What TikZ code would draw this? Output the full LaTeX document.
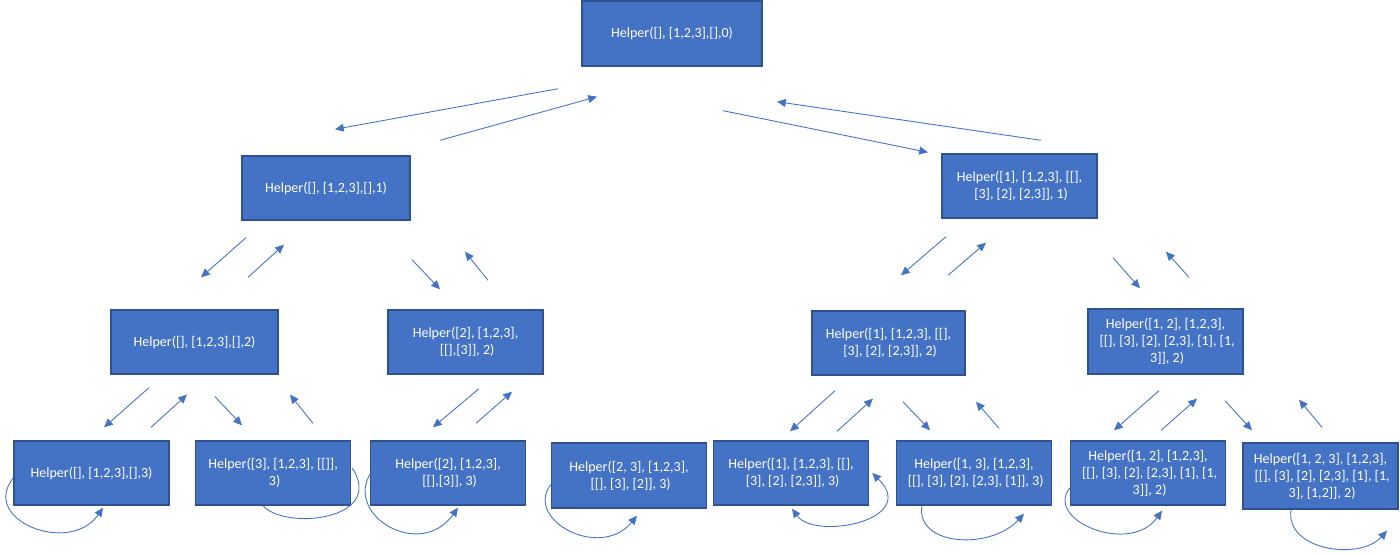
\documentclass[tikz,border=0pt]{standalone}
\usepackage{fontspec}
\setmainfont{Carlito}
\usetikzlibrary{arrows.meta,calc}
\definecolor{boxblue}{HTML}{4472C4}
\definecolor{boxedge}{HTML}{2F528F}
\begin{document}
\begin{tikzpicture}[x=0.02cm,y=-0.02cm,
    call/.style={draw=boxedge,fill=boxblue,line width=0.8pt,text=white,align=center,
      font=\fontsize{8}{9.7}\selectfont,inner sep=0pt,minimum width=3.1cm,minimum height=1.28cm},
    arr/.style={boxblue,line width=0.5pt,-{Triangle[length=5pt,width=4.5pt]}},
    twoarr/.style={boxblue,line width=0.5pt,{Triangle[length=5pt,width=4.5pt]}-{Triangle[length=5pt,width=4.5pt]}}]
    \useasboundingbox (0,0) rectangle (1400,554);

    % calls
    \node[call,minimum width=3.6cm,minimum height=1.3cm] (root) at (672,33.5) {Helper([],  [1,2,3],[],0)};
    \node[call,minimum width=3.36cm] (l1a) at (326,188) {Helper([],  [1,2,3],[],1)};
    \node[call] (l1b) at (1019.5,186) {Helper([1],  [1,2,3], [[],\\{} [3], [2], [2,3]], 1)};

    \node[call,minimum width=3.34cm] (l2a) at (194.5,342) {Helper([],  [1,2,3],[],2)};
    \node[call] (l2b) at (465.5,342) {Helper([2],  [1,2,3],\\{} [[],[3]],  2)};
    \node[call,minimum width=3.06cm] (l2c) at (888.5,343) {Helper([1],  [1,2,3], [[],\\{} [3], [2], [2,3]], 2)};
    \node[call,minimum height=1.3cm] (l2d) at (1165.5,341.5) {Helper([1, 2], [1,2,3],\\{} [[], [3], [2], [2,3], [1], [1,\\{} 3]], 2)};

    \node[call] (n1) at (91.5,473) {Helper([],  [1,2,3],[],3)};
    \node[call] (n2) at (273,473) {Helper([3],  [1,2,3], [[]],\\{} 3)};
    \node[call] (n3) at (448,473) {Helper([2],  [1,2,3],\\{} [[],[3]],  3)};
    \node[call,minimum height=1.3cm] (n4) at (629,475.5) {Helper([2, 3], [1,2,3],\\{} [[], [3], [2]], 3)};
    \node[call] (n5) at (791,473) {Helper([1],  [1,2,3], [[],\\{} [3], [2], [2,3]], 3)};
    \node[call] (n6) at (974,473) {Helper([1, 3], [1,2,3],\\{} [[], [3], [2], [2,3], [1]], 3)};
    \node[call] (n7) at (1148,473) {Helper([1, 2], [1,2,3],\\{} [[], [3], [2], [2,3], [1], [1,\\{} 3]], 2)};
    \node[call,minimum height=1.32cm] (n8) at (1320.5,476) {Helper([1, 2, 3], [1,2,3],\\{} [[], [3], [2], [2,3], [1], [1,\\{} 3], [1,2]], 2)};

    % calls and returns
    \draw[arr] ($(root.south)+(-114,22)$) -- ($(l1a.north)+(9,-26)$);
    \draw[arr] ($(l1a.north)+(114,-15)$) -- ($(root.south)+(-75,30)$);
    \draw[arr] ($(root.south)+(51,44)$) -- ($(l1b.north)+(-91.5,-1)$);
    \draw[arr] ($(l1b.north)+(21.5,-13)$) -- ($(root.south)+(105,35)$);

    \draw[arr] ($(l1a.south)+(-80,17)$) -- ($(l2a.north)+(6.5,-32)$);
    \draw[arr] ($(l2a.north)+(53.5,-32)$) -- ($(l1a.south)+(-42,24)$);
    \draw[arr] ($(l1a.south)+(86,39)$) -- ($(l2b.north)+(-25.5,-20)$);
    \draw[arr] ($(l2b.north)+(22.5,-29)$) -- ($(l1a.south)+(139,31)$);

    \draw[arr] ($(l1b.south)+(-73.5,18)$) -- ($(l2c.north)+(12.5,-35)$);
    \draw[arr] ($(l2c.north)+(59.5,-35)$) -- ($(l1b.south)+(-33.5,24)$);
    \draw[arr] ($(l1b.south)+(93.5,39)$) -- ($(l2d.north)+(-25.5,-20)$);
    \draw[arr] ($(l2d.north)+(23.5,-31)$) -- ($(l1b.south)+(146.5,33)$);

    \draw[arr] ($(l2a.south)+(-45.5,13)$) -- ($(n1.north)+(12.5,-13)$);
    \draw[arr] ($(n1.north)+(59.5,-13)$) -- ($(l2a.south)+(-7.5,20)$);
    \draw[arr] ($(l2a.south)+(20.5,22)$) -- ($(n2.north)+(-31,-15)$);
    \draw[arr] ($(n2.north)+(40,-17)$) -- ($(l2a.south)+(95.5,20)$);

    \draw[arr] ($(l2b.south)+(13.5,14)$) -- ($(n3.north)+(-15,-13)$);
    \draw[arr] ($(n3.north)+(28,-17)$) -- ($(l2b.south)+(46.5,17)$);

    \draw[arr] ($(l2c.south)+(-53.5,15)$) -- ($(n5.north)+(-1,-9)$);
    \draw[arr] ($(n5.north)+(46,-9)$) -- ($(l2c.south)+(-15.5,23)$);
    \draw[arr] ($(l2c.south)+(14.5,26)$) -- ($(n6.north)+(-44,-10)$);
    \draw[arr] ($(n6.north)+(25,-12)$) -- ($(l2c.south)+(87.5,26)$);

    \draw[arr] ($(l2d.south)+(-6.5,16)$) -- ($(n7.north)+(-34,-10)$);
    \draw[arr] ($(n7.north)+(13,-10)$) -- ($(l2d.south)+(31.5,24)$);
    \draw[arr] ($(l2d.south)+(59.5,26)$) -- ($(n8.north)+(-68.5,-12)$);
    \draw[arr] ($(n8.north)+(1.5,-15)$) -- ($(l2d.south)+(133.5,25)$);

    % loops
    \draw[arr] ($(n1.west)+(0,5)$) .. controls +(-34,42) and +(-33,48) .. ($(n1.south)+(11.5,2)$);
    \draw[boxblue,line width=0.5pt] ($(n2.south)+(-10,0)$) .. controls +(22,25) and +(34,52) .. ($(n2.east)+(1,-5)$);
    \draw[arr] ($(n3.west)+(1,0)$) .. controls +(-27,42) and +(-38,53) .. ($(n3.south)+(10,2)$);
    \draw[arr] ($(n4.west)+(0,9)$) .. controls +(-27,35) and +(-37,45) .. ($(n4.south)+(8,7)$);
    \draw[twoarr] ($(n5.south)+(1,3)$) .. controls +(23,32) and +(48,47) .. ($(n5.east)+(3,0)$);
    \draw[arr] ($(n6.south)+(-52,0)$) .. controls +(-7,40) and +(-34,37) .. ($(n6.south)+(50,8)$);
    \draw[arr] ($(n7.west)+(0,15)$) .. controls +(-26,32) and +(-32,45) .. ($(n7.south)+(14,5)$);
    \draw[arr] ($(n8.south)+(-29.5,0)$) .. controls +(-6,41) and +(-27,30) .. ($(n8.south)+(66.5,21)$);
\end{tikzpicture}
\end{document}
